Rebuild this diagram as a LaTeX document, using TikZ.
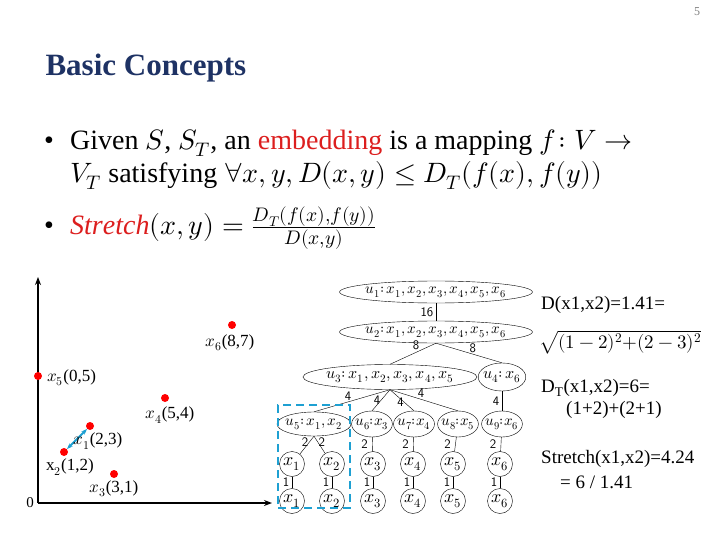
\documentclass[tikz,border=0pt]{standalone}
\usepackage{amsmath}
\usepackage{unicode-math}
\setmainfont{Liberation Serif}
\setmathfont{Latin Modern Math}
\usetikzlibrary{arrows.meta,shapes.geometric}
\begin{document}
\begin{tikzpicture}[x=1pt,y=-1pt,
  ell/.style={draw,ellipse,inner sep=-2pt,font=\fontsize{16}{16}\selectfont},
  circ/.style={draw,circle,minimum size=25pt,inner sep=0pt,font=\fontsize{18}{18}\selectfont},
  wl/.style={font=\fontsize{13}{13}\selectfont\sffamily,inner sep=0.5pt},
  pt/.style={circle,fill=red,inner sep=0pt,minimum size=8pt},
  pl/.style={font=\fontsize{17}{17}\selectfont,inner sep=1pt},
  body/.style={font=\fontsize{28}{30}\selectfont,anchor=west,inner sep=0pt},
  rt/.style={anchor=west,font=\fontsize{19}{19}\selectfont,inner sep=0pt}]
\useasboundingbox (0,0) rectangle (720,540);
\definecolor{ttl}{RGB}{30,50,100}
\definecolor{emb}{RGB}{220,30,30}
\definecolor{cy}{RGB}{30,160,210}
\node[text=gray,font=\fontsize{12}{12}\selectfont] (pg) at (697,12) {5};
\node[anchor=west,text=ttl,font=\fontsize{31}{31}\selectfont\bfseries] (title) at (42,68) {Basic Concepts};
\node[body] (b1) at (44,143) {\textbullet};
\node[body] (l1) at (70,143) {Given $S$, $S_T$, an \textcolor{emb}{embedding} is a mapping $f\!:V\to$};
\node[body] (l2) at (70,176) {$V_T$ satisfying $\forall x,y,D(x,y)\leq D_T(f(x),f(y))$};
\node[body] (b2) at (44,228) {\textbullet};
\node[body] (l3) at (70,228) {$\textcolor{emb}{\mathit{Stretch}}(x,y)=\frac{D_T(f(x),f(y))}{D(x,y)}$};
% plot
\coordinate (o) at (38,503);
\coordinate (yt) at (38,277);
\coordinate (xt) at (272,503);
\draw[line width=2pt,-{Stealth[length=8pt]}] (o) -- (yt);
\draw[line width=2pt,-{Stealth[length=8pt]}] (o) -- (xt);
\node[font=\fontsize{15}{15}\selectfont] (zero) at (30,503) {0};
\node[pt] (p5) at (38,376) {};
\node[pt] (p6) at (232,325) {};
\node[pt] (p4) at (165,398) {};
\node[pt] (p1) at (90,426) {};
\node[pt] (p2) at (64,452) {};
\node[pt] (p3) at (114,474) {};
\draw[cy,line width=2pt,{Stealth[length=6pt]}-{Stealth[length=6pt]}] (p2) -- (p1);
\node[pl,anchor=west] at (46,378) {$x_5$(0,5)};
\node[pl] at (230,343) {$x_6$(8,7)};
\node[pl] at (170,415) {$x_4$(5,4)};
\node[pl] at (98,441) {$x_1$(2,3)};
\node[pl] at (70,467) {x$_2$(1,2)};
\node[pl] at (114,489) {$x_3$(3,1)};
% tree
\node[ell,minimum width=140pt,minimum height=22pt,font=\fontsize{15}{15}\selectfont] (u1) at (436,292) {$u_1{:}\,x_1,x_2,x_3,x_4,x_5,x_6$};
\node[ell,minimum width=140pt,minimum height=22pt,font=\fontsize{15}{15}\selectfont] (u2) at (436,332) {$u_2{:}\,x_1,x_2,x_3,x_4,x_5,x_6$};
\node[ell,minimum width=124pt,minimum height=25pt] (u3) at (390,377) {$u_3{:}\,x_1,x_2,x_3,x_4,x_5$};
\node[ell,minimum width=40pt,minimum height=28pt] (u4) at (502,377) {$u_4{:}\,x_6$};
\node[ell,minimum width=70pt,minimum height=24pt,font=\fontsize{15}{15}\selectfont] (u5) at (314,424) {$u_5{:}\,x_1,x_2$};
\node[ell,minimum width=40pt,minimum height=26pt,font=\fontsize{15}{15}\selectfont] (u6) at (372,424) {$u_6{:}x_3$};
\node[ell,minimum width=40pt,minimum height=26pt,font=\fontsize{15}{15}\selectfont] (u7) at (414,424) {$u_7{:}x_4$};
\node[ell,minimum width=40pt,minimum height=26pt,font=\fontsize{15}{15}\selectfont] (u8) at (458,424) {$u_8{:}x_5$};
\node[ell,minimum width=40pt,minimum height=26pt,font=\fontsize{15}{15}\selectfont] (u9) at (502,424) {$u_9{:}x_6$};
\foreach \i/\x in {1/292,2/332,3/373,4/413,5/453,6/500}{
  \node[circ] (a\i) at (\x,464) {$x_\i$};
  \node[circ] (b\i) at (\x,501) {$x_\i$};
  \draw (a\i) -- (b\i) node[wl,midway,left=2pt] {1};
}
\draw (u1) -- (u2) node[wl,midway,left=2pt] {16};
\draw (u2.south) -- (u3.north) node[wl,pos=0.35,above left] {8};
\draw (u2.south) -- (u4.north) node[wl,pos=0.5,above right] {8};
\draw (u4) -- (u9) node[wl,midway,left=2pt] {4};
\draw (u3.south) -- (u5.north) node[wl,pos=0.5,above left] {4};
\draw (u3.south) -- (u6.north) node[wl,pos=0.5,left] {4};
\draw (u3.south) -- (u7.north) node[wl,pos=0.6,left] {4};
\draw (u3.south) -- (u8.north) node[wl,pos=0.4,above right] {4};
\draw (u5.south) -- (a1) node[wl,pos=0.35,left] {2};
\draw (u5.south) -- (a2) node[wl,pos=0.35,right] {2};
\draw (u6) -- (a3) node[wl,midway,left=4pt] {2};
\draw (u7) -- (a4) node[wl,midway,left=4pt] {2};
\draw (u8) -- (a5) node[wl,midway,left=4pt] {2};
\draw (u9) -- (a6) node[wl,midway,left=4pt] {2};
\node[draw=cy,line width=2pt,dash pattern=on 8pt off 5pt,minimum width=72pt,minimum height=103pt] (box) at (314,456.5) {};
% right text
\node[rt] (t1) at (541,305) {D(x1,x2)=1.41=};
\node[rt] (t2) at (539,342) {$\sqrt{(1-2)^2{+}(2-3)^2}$};
\node[rt] (t3) at (541,388) {D$_\text{T}$(x1,x2)=6=};
\node[rt] (t4) at (566,410) {(1+2)+(2+1)};
\node[rt] (t5) at (541,459) {Stretch(x1,x2)=4.24};
\node[rt] (t6) at (560,482) {= 6 / 1.41};
\end{tikzpicture}
\end{document}
